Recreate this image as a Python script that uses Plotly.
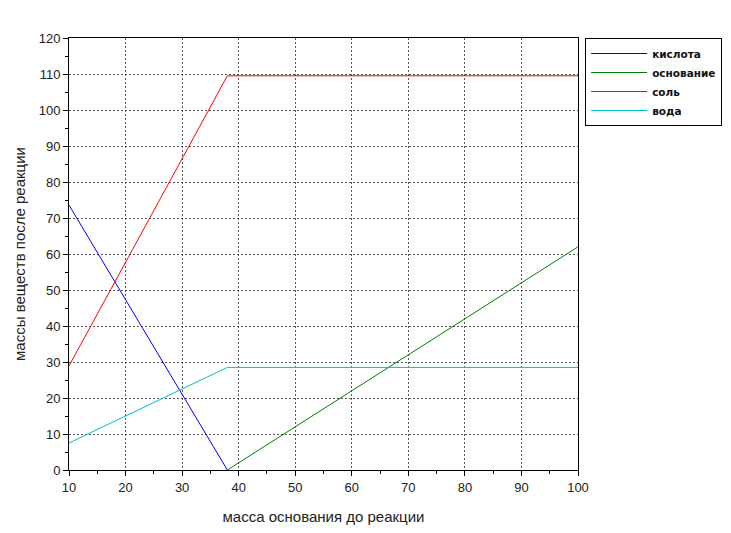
import plotly.graph_objects as go

acid_x = [10, 38]
acid_y = [73.6, 0]
base_x = [38, 100]
base_y = [0, 62]
salt_x = [10, 38, 100]
salt_y = [28.9, 109.5, 109.5]
water_x = [10, 38, 100]
water_y = [7.5, 28.5, 28.5]

names = ["кислота", "основание", "соль", "вода"]
colors = ["#0000FF", "#008000", "#FF0000", "#00BFBF"]

fig = go.Figure()
for xs, ys, n, c in [(acid_x, acid_y, names[0], colors[0]),
                     (base_x, base_y, names[1], colors[1]),
                     (salt_x, salt_y, names[2], colors[2]),
                     (water_x, water_y, names[3], colors[3])]:
    fig.add_trace(go.Scatter(x=xs, y=ys, mode="lines", name=n,
                             line=dict(color=c, width=1)))

axis_common = dict(
    showline=True, linecolor="black", linewidth=1, mirror=True,
    showgrid=True, gridcolor="#555555", griddash="2px,2px", gridwidth=1,
    ticks="outside", ticklen=5, tickcolor="black",
    tickfont=dict(family="Liberation Sans, Arial, sans-serif", size=13, color="#222222"),
    zeroline=False,
)

fig.update_layout(
    width=731, height=533,
    margin=dict(l=61, r=161, t=30, b=71),
    paper_bgcolor="white", plot_bgcolor="white",
    font=dict(family="Liberation Sans, Arial, sans-serif", color="#222222"),
    xaxis=dict(range=[10, 100], dtick=10, tick0=10,
               minor=dict(dtick=5, ticks="outside", ticklen=3, tickcolor="black", showgrid=False),
               title=dict(text="масса основания до реакции", font=dict(size=15), standoff=17),
               automargin=False, **axis_common),
    yaxis=dict(range=[0, 120], dtick=10,
               minor=dict(dtick=5, ticks="outside", ticklen=3, tickcolor="black", showgrid=False),
               title=dict(text="массы веществ после реакции", font=dict(size=15), standoff=9),
               automargin=False, **axis_common),
    legend=dict(x=1.014, y=1.0, xanchor="left", yanchor="top",
                bordercolor="black", borderwidth=1, bgcolor="white",
                font=dict(family="DejaVu Sans", size=10.5, color="#111111", weight="bold"),
                itemwidth=56, tracegroupgap=0),
    showlegend=True,
)

fig.write_html("out.html")
